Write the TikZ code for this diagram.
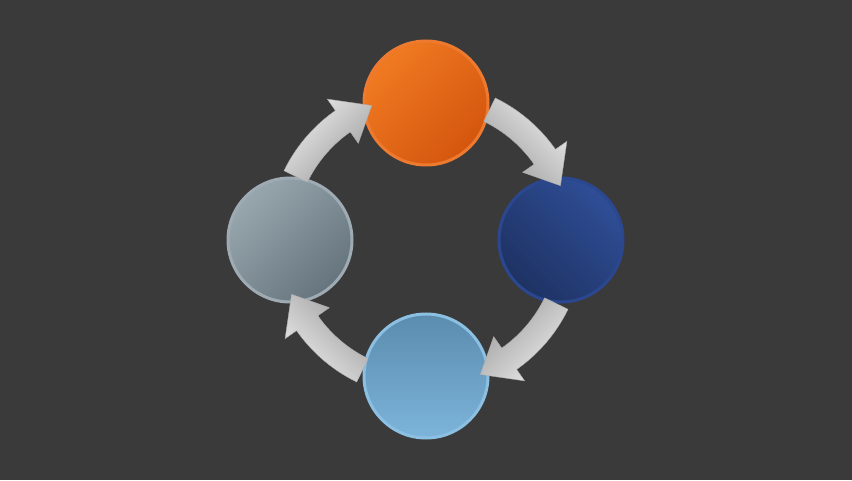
\documentclass[tikz,border=0pt]{standalone}
\begin{document}
\begin{tikzpicture}[x=1pt,y=1pt,
  disc/.style={circle,minimum size=124pt,inner sep=0pt,line width=3pt},
  arr/.style={top color=white!92!black,bottom color=black!38,draw=black!32,line width=0.4pt}]
\definecolor{bg}{HTML}{3A3A3A}
\definecolor{o1}{HTML}{F07A22}\definecolor{o2}{HTML}{D4560E}\definecolor{ob}{HTML}{EE7A30}
\definecolor{b1}{HTML}{2F4E96}\definecolor{b2}{HTML}{1E3263}\definecolor{bb}{HTML}{2B4790}
\definecolor{l1}{HTML}{7DB4DA}\definecolor{l2}{HTML}{5A8CAE}\definecolor{lb}{HTML}{8CC0E2}
\definecolor{g1}{HTML}{98A6AE}\definecolor{g2}{HTML}{66747D}\definecolor{gb}{HTML}{9EABB3}
\fill[bg] (0,0) rectangle (852,480);
\useasboundingbox (0,0) rectangle (852,480);
\coordinate (c) at (426,240);
\node[disc,draw=ob,left color=o1,right color=o2,shading angle=45] (o) at (426,377) {};
\node[disc,draw=bb,left color=b1,right color=b2,shading angle=-45] (b) at (561,240) {};
\node[disc,draw=lb,top color=l2,bottom color=l1] (l) at (426,104) {};
\node[disc,draw=gb,left color=g1,right color=g2,shading angle=45] (g) at (290,240) {};
\foreach \r in {0,-90,-180,-270}{
  \begin{scope}[shift={(c)},rotate=\r]
  \path[arr,shading angle=\r-45] (64:132) arc(64:35:132) -- (35:118) -- (22:145) -- (35:172) -- (35:158) arc(35:64:158) -- cycle;
  \end{scope}}
\end{tikzpicture}
\end{document}
